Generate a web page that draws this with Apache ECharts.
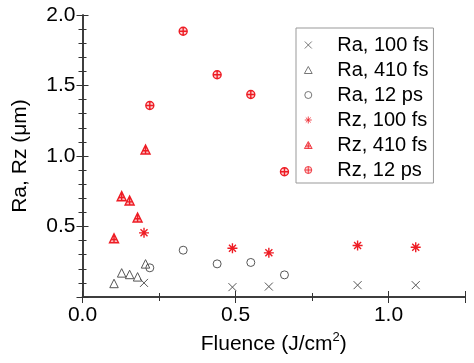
<!DOCTYPE html>
<html><head><meta charset="utf-8">
<script src="https://cdn.jsdelivr.net/npm/echarts@6/dist/echarts.min.js"></script>
<style>html,body{margin:0;padding:0;background:#fff}#c{width:474px;height:363px}</style>
</head><body><div id="c"></div>
<script>
const seriesNames = ['Ra, 100 fs','Ra, 410 fs','Ra, 12 ps','Rz, 100 fs','Rz, 410 fs','Rz, 12 ps'];
const ra100X = [0.201,0.490,0.609,0.899,1.089];
const ra100Y = [0.100,0.070,0.074,0.084,0.084];
const ra410X = [0.103,0.128,0.154,0.180,0.206];
const ra410Y = [0.096,0.171,0.160,0.143,0.235];
const ra12X  = [0.220,0.329,0.440,0.550,0.660];
const ra12Y  = [0.207,0.332,0.235,0.245,0.157];
const rz100X = [0.201,0.490,0.609,0.899,1.089];
const rz100Y = [0.455,0.346,0.313,0.365,0.353];
const rz410X = [0.103,0.128,0.154,0.180,0.206];
const rz410Y = [0.417,0.715,0.684,0.564,1.046];
const rz12X  = [0.220,0.329,0.440,0.550,0.660];
const rz12Y  = [1.358,1.885,1.576,1.436,0.888];

const xs = [ra100X,ra410X,ra12X,rz100X,rz410X,rz12X];
const ys = [ra100Y,ra410Y,ra12Y,rz100Y,rz410Y,rz12Y];
const GRAY = '#555', RED = '#ee1c24';
const symbols = [
  'path://M0,0L10,10M10,0L0,10',
  'path://M5,0L10,9L0,9Z',
  'path://M0,5A5,5,0,1,1,10,5A5,5,0,1,1,0,5Z',
  'path://M5,0L5,10M0,5L10,5M1.5,1.5L8.5,8.5M8.5,1.5L1.5,8.5',
  'path://M5,0L10,9L0,9ZM5,1.5L5,9M1.8,5.8L8.2,5.8',
  'path://M0,5A5,5,0,1,1,10,5A5,5,0,1,1,0,5ZM5,0L5,10M0,5L10,5'
];
const colors = [GRAY,GRAY,GRAY,RED,RED,RED];
const fills = ['rgba(0,0,0,0)','rgba(0,0,0,0)','rgba(0,0,0,0)','rgba(0,0,0,0)','rgba(238,28,36,0.3)','rgba(238,28,36,0.2)'];
const sizes = [8,8.5,8,10,9,8];

const FONT = 'Liberation Sans, Arial, sans-serif';
const axisLineStyle = {color:'#333', width:1.5};

const series = seriesNames.map((n,i)=>({
  name:n, type:'scatter', symbol:symbols[i], symbolSize:sizes[i],
  itemStyle:{color:fills[i], borderColor:colors[i], borderWidth: i>=3?1.4:1, opacity:1},
  data: xs[i].map((x,j)=>[x, ys[i][j]])
}));

const chart = echarts.init(document.getElementById('c'), null, {renderer:'canvas'});
chart.setOption({
  animation:false,
  grid:{left:82.5, right:9, top:15, bottom:66},
  legend:{
    orient:'vertical', left:296, top:28,
    data: seriesNames,
    itemWidth:40, itemHeight:7, itemGap:5,
    padding:[7,5,3,8],
    borderColor:'#999', borderWidth:1,
    itemStyle:{borderWidth:0.8},
    textStyle:{fontFamily:FONT, fontSize:20, color:'#000', lineHeight:20, padding:[0,0,0,4]}
  },
  xAxis:[{
    type:'value', min:0, max:1.25, interval:0.5,
    name:'{a|Fluence (J/cm}{s|2}{a|)}', nameLocation:'middle', nameGap:32,
    nameTextStyle:{rich:{a:{fontFamily:FONT,fontSize:21,color:'#000',verticalAlign:'bottom',lineHeight:24},
                         s:{fontFamily:FONT,fontSize:13,color:'#000',verticalAlign:'top',lineHeight:24}}},
    axisLine:{show:true, lineStyle:axisLineStyle},
    axisTick:{show:true, inside:true, length:6, lineStyle:{color:'#333'}},
    minorTick:{show:true, splitNumber:2, length:4, lineStyle:{color:'#333'}},
    splitLine:{show:false},
    axisLabel:{fontFamily:FONT, fontSize:21, color:'#000', margin:8, showMaxLabel:false,
      formatter:v=>v.toFixed(1)}
  },{
    type:'value', min:0, max:1.25, interval:0.5, position:'top',
    axisLine:{show:true, lineStyle:axisLineStyle},
    axisTick:{show:true, inside:true, length:6, lineStyle:{color:'#333'}},
    minorTick:{show:true, splitNumber:2, length:4, lineStyle:{color:'#333'}},
    splitLine:{show:false}, axisLabel:{show:false}
  }],
  yAxis:[{
    type:'value', min:0, max:2, interval:0.5,
    name:'Ra, Rz (μm)', nameLocation:'middle', nameGap:52,
    nameTextStyle:{fontFamily:FONT, fontSize:21, color:'#000'},
    axisLine:{show:true, lineStyle:axisLineStyle},
    axisTick:{show:true, inside:true, length:6, lineStyle:{color:'#333'}},
    minorTick:{show:true, splitNumber:5, length:4, lineStyle:{color:'#333'}},
    splitLine:{show:false},
    axisLabel:{fontFamily:FONT, fontSize:21, color:'#000', margin:7, showMinLabel:false,
      formatter:v=>v.toFixed(1)}
  },{
    type:'value', min:0, max:2, interval:0.5, position:'right',
    axisLine:{show:true, lineStyle:axisLineStyle},
    axisTick:{show:true, inside:true, length:6, lineStyle:{color:'#333'}},
    minorTick:{show:true, splitNumber:5, length:4, lineStyle:{color:'#333'}},
    splitLine:{show:false}, axisLabel:{show:false}
  }],
  series: series
});
</script></body></html>
